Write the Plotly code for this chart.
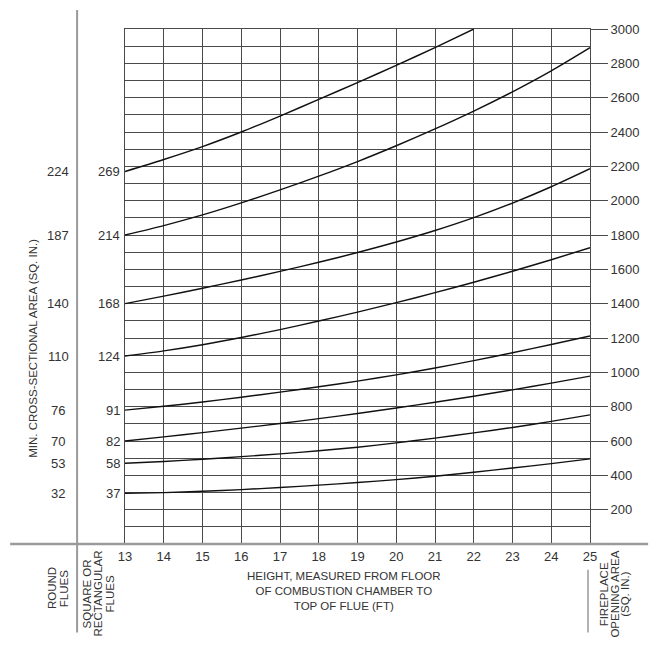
import plotly.graph_objects as go

# ---- data ----
heights = [13, 14, 15, 16, 17, 18, 19, 20, 21, 22, 23, 24, 25]
curve_269 = [2170, 2240, 2315, 2400, 2493, 2590, 2688, 2788, 2892, 3000]
curve_214 = [1800, 1855, 1917, 1987, 2063, 2143, 2228, 2320, 2418, 2522, 2634, 2756, 2891]
curve_168 = [1400, 1444, 1490, 1538, 1588, 1641, 1698, 1759, 1826, 1901, 1986, 2081, 2186]
curve_124 = [1095, 1125, 1161, 1203, 1249, 1299, 1351, 1406, 1464, 1525, 1589, 1656, 1726]
curve_91 = [780, 802, 827, 855, 885, 916, 949, 985, 1025, 1068, 1114, 1162, 1212]
curve_82 = [600, 624, 649, 675, 702, 730, 760, 792, 826, 861, 898, 937, 978]
curve_58 = [470, 481, 494, 509, 525, 543, 564, 589, 617, 647, 679, 714, 752]
curve_37 = [295, 299, 307, 317, 329, 343, 358, 375, 395, 418, 443, 468, 496]

square_labels = ["269", "214", "168", "124", "91", "82", "58", "37"]
round_labels = ["224", "187", "140", "110", "76", "70", "53", "32"]
curves = [curve_269, curve_214, curve_168, curve_124, curve_91, curve_82, curve_58, curve_37]

right_ticks = list(range(200, 3001, 200))
minor_ticks = list(range(100, 3000, 200))

FONT = "Liberation Sans, Arial, sans-serif"
TXT = "#333333"
GRID = "#4a4a4a"

fig = go.Figure()
for c in curves:
    fig.add_trace(go.Scatter(
        x=heights[:len(c)], y=c, mode="lines",
        line=dict(color="#111111", width=1.4, shape="spline", smoothing=0.8),
        hoverinfo="skip", showlegend=False))

annotations = []
for lab_sq, lab_rd, c in zip(square_labels, round_labels, curves):
    annotations.append(dict(x=13, y=c[0], xref="x", yref="y", text=lab_sq,
                            xanchor="right", yanchor="middle", xshift=-3,
                            showarrow=False, font=dict(size=13, color=TXT)))
    annotations.append(dict(x=-0.144, y=c[0], xref="paper", yref="y", text=lab_rd,
                            xanchor="center", yanchor="middle",
                            showarrow=False, font=dict(size=13, color=TXT)))

# (x, y, text, angle, size)
side_texts = [
    (-0.198, 0.381, "MIN. CROSS-SECTIONAL AREA (SQ. IN.)", -90, 11.5),
    (-0.158, -0.0865, "ROUND", -90, 11.5),
    (-0.132, -0.0865, "FLUES", -90, 11.5),
    (-0.0828, -0.097, "SQUARE OR", -90, 11.5),
    (-0.0591, -0.097, "RECTANGULAR", -90, 11.5),
    (-0.0333, -0.097, "FLUES", -90, 11.5),
    (1.032, -0.098, "FIREPLACE", -90, 11.5),
    (1.054, -0.098, "OPENING AREA", -90, 11.5),
    (1.075, -0.097, "(SQ. IN.)", -90, 11.5),
    (0.471, -0.0918, "HEIGHT, MEASURED FROM FLOOR<br>OF COMBUSTION CHAMBER TO<br>TOP OF FLUE (FT)", 0, 11.5),
]
for x, y, t, ang, sz in side_texts:
    annotations.append(dict(x=x, y=y, xref="paper", yref="paper", text=t, textangle=ang,
                            xanchor="center", yanchor="middle", showarrow=False,
                            font=dict(size=sz, color=TXT)))

shapes = [
    dict(type="line", xref="paper", yref="paper", x0=-0.247, x1=1.125, y0=0, y1=0,
         line=dict(color="#9a9a9a", width=2.5)),
    dict(type="line", xref="paper", yref="paper", x0=-0.103, x1=-0.103, y0=-0.172, y1=1.037,
         line=dict(color="#9a9a9a", width=2)),
    dict(type="line", xref="paper", yref="paper", x0=0.9957, x1=0.9957, y0=-0.05, y1=-0.172,
         line=dict(color="#9a9a9a", width=1.5)),
]

fig.update_layout(
    width=671, height=647,
    margin=dict(l=117, r=89, t=21, b=110.6),
    paper_bgcolor="white", plot_bgcolor="white",
    font=dict(family=FONT, color=TXT, size=13),
    showlegend=False,
    annotations=annotations,
    shapes=shapes,
    xaxis=dict(range=[13, 25], tickmode="linear", tick0=13, dtick=1,
               showgrid=True, gridcolor=GRID, gridwidth=1,
               showline=True, mirror=True, linecolor=GRID, linewidth=1,
               ticks="", zeroline=False, tickfont=dict(size=13, color=TXT)),
    yaxis=dict(range=[0, 3000], side="right", tickmode="array", tickvals=right_ticks,
               ticks="outside", ticklen=17, tickcolor=GRID, tickwidth=1,
               showgrid=True, gridcolor=GRID, gridwidth=1,
               minor=dict(tickmode="array", tickvals=minor_ticks, showgrid=True,
                          gridcolor=GRID, gridwidth=1, ticks=""),
               showline=True, mirror=True, linecolor=GRID, linewidth=1,
               zeroline=False, tickfont=dict(size=13, color=TXT)),
)

fig.write_html("out.html")
